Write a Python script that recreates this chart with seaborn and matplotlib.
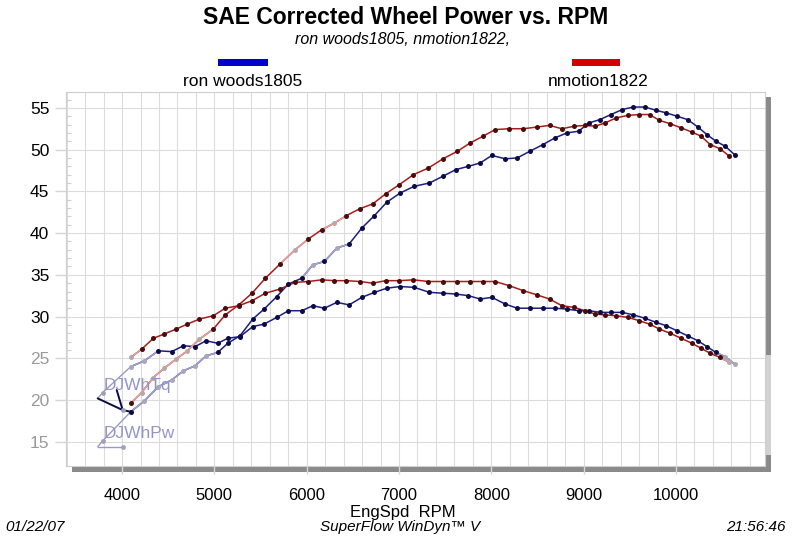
import matplotlib
matplotlib.use("Agg")
import matplotlib.pyplot as plt
import seaborn as sns
from matplotlib.patches import Rectangle
from matplotlib.ticker import MultipleLocator, FixedLocator

# ---------------- data ----------------
title = "SAE Corrected Wheel Power vs. RPM"
subtitle = "ron woods1805, nmotion1822,"
run_names = ["ron woods1805", "nmotion1822"]
x_label = "EngSpd  RPM"
footer_left = "01/22/07"
footer_mid = "SuperFlow WinDyn\u2122 V"
footer_right = "21:56:46"
channel_labels = ["DJWhTq", "DJWhPw"]
x_ticks = [4000, 5000, 6000, 7000, 8000, 9000, 10000]
y_ticks = [15, 20, 25, 30, 35, 40, 45, 50, 55]

ron_rpm = [4094, 4242, 4394, 4538, 4664, 4791, 4910, 5037, 5145, 5278, 5416, 5539,
           5676, 5802, 5947, 6066, 6192, 6326, 6460, 6597, 6734, 6868, 7012, 7164,
           7330, 7474, 7615, 7752, 7879, 8006, 8150, 8280, 8417, 8558, 8688, 8818,
           8944, 9058, 9177, 9296, 9418, 9539, 9662, 9786, 9895, 10010, 10125,
           10238, 10335, 10433, 10533, 10634]
ron_power = [18.6, 19.9, 21.6, 22.4, 23.5, 24.1, 25.3, 25.7, 26.8, 27.7, 29.7, 30.9,
             32.4, 33.9, 34.6, 36.2, 36.6, 38.2, 38.7, 40.6, 42.1, 43.7, 44.8, 45.6,
             46.0, 46.8, 47.6, 48.0, 48.4, 49.3, 48.9, 49.0, 49.8, 50.6, 51.4, 52.0,
             52.2, 53.2, 53.6, 54.2, 54.8, 55.1, 55.1, 54.7, 54.4, 54.0, 53.6,
             52.7, 51.8, 51.0, 50.4, 49.4]
ron_torque = [24.0, 24.7, 25.9, 25.8, 26.5, 26.4, 27.1, 26.8, 27.4, 27.6, 28.8, 29.1,
              29.9, 30.7, 30.7, 31.3, 31.0, 31.7, 31.4, 32.3, 32.9, 33.4, 33.6, 33.5,
              32.9, 32.8, 32.7, 32.5, 32.1, 32.3, 31.5, 31.0, 31.0, 31.0, 31.0, 30.9,
              30.7, 30.7, 30.5, 30.5, 30.5, 30.2, 29.8, 29.3, 28.9, 28.3, 27.7,
              27.1, 26.4, 25.7, 25.2, 24.3]

nmo_rpm = [4094, 4213, 4339, 4455, 4585, 4708, 4838, 4989, 5118, 5265, 5408, 5553,
           5712, 5874, 6018, 6163, 6300, 6431, 6572, 6716, 6855, 7003, 7156, 7319,
           7477, 7633, 7771, 7910, 8041, 8193, 8348, 8493, 8630, 8764, 8897, 9016,
           9125, 9233, 9352, 9479, 9604, 9713, 9821, 9937, 10056, 10172, 10273,
           10370, 10478, 10579]
nmo_power = [19.6, 20.9, 22.7, 23.8, 24.9, 25.9, 27.3, 28.5, 30.2, 31.4, 32.8, 34.6,
             36.3, 38.0, 39.3, 40.4, 41.2, 42.1, 42.9, 43.5, 44.7, 45.8, 47.0, 47.8,
             48.9, 49.8, 50.8, 51.6, 52.4, 52.5, 52.5, 52.7, 52.9, 52.5, 52.8, 52.9,
             52.8, 53.2, 53.8, 54.1, 54.2, 54.2, 53.5, 53.1, 52.6, 52.1, 51.6,
             50.6, 50.1, 49.2]
nmo_torque = [25.1, 26.1, 27.4, 27.9, 28.5, 29.1, 29.7, 30.1, 31.0, 31.3, 31.9, 32.8,
              33.3, 34.1, 34.2, 34.4, 34.3, 34.3, 34.2, 34.0, 34.3, 34.3, 34.4, 34.2,
              34.2, 34.2, 34.2, 34.2, 34.2, 33.7, 33.1, 32.6, 32.1, 31.3, 31.1, 30.7,
              30.3, 30.2, 30.1, 29.9, 29.5, 29.1, 28.5, 28.0, 27.4, 26.8, 26.2,
              25.6, 25.1, 24.5]

# samples drawn faded (unselected points), by index
ron_power_faded = [1, 2, 3, 4, 5, 6, 15, 17]
ron_torque_faded = [0, 1, 50, 51]
nmo_power_faded = [1, 2, 3, 4, 5, 6, 13, 16]
nmo_torque_faded = [0, 49]

# little channel-label glyph lines near the y axis
tq_glyph_rpm = [[3736, 3790], [3790, 4094], [3736, 4007], [3942, 4007], [4007, 4094]]
tq_glyph_val = [[20.2, 20.9], [20.9, 24.0], [20.2, 18.8], [21.2, 18.8], [18.8, 18.6]]
tq_glyph_dark = [False, False, True, True, True]
pw_glyph_rpm = [[3736, 3790], [3736, 4007], [3790, 4094]]
pw_glyph_val = [[14.4, 15.1], [14.4, 14.4], [15.1, 18.6]]
glyph_dot_rpm = [3790, 4007, 3790, 4007]
glyph_dot_val = [20.9, 18.8, 15.1, 14.4]
label_rpm = [3805, 3805]
label_val = [21.8, 16.0]

# ---------------- style ----------------
sns.set_style("white")
plt.rcParams['font.family'] = ['Liberation Sans', 'DejaVu Sans']
plt.rcParams['text.color'] = 'black'

W, H = 800, 540
fig = plt.figure(figsize=(8, 5.4), dpi=100)

def fx(px):
    return px / W

def fy(py):
    return 1 - py / H

ax_l, ax_r, ax_t, ax_b = 66, 765, 92, 466
ax = fig.add_axes([fx(ax_l), fy(ax_b), fx(ax_r - ax_l), (ax_b - ax_t) / H])

BLUE_LINE, BLUE_DOT = "#1e1e82", "#0c0c45"
RED_LINE, RED_DOT = "#a81c1c", "#4a0c0c"
BLUE_FADE, BLUE_FADE_DOT = "#a4a4d2", "#a8a8bc"
RED_FADE, RED_FADE_DOT = "#e2a4a4", "#b8a8a8"

series = [
    (ron_rpm, ron_power, ron_power_faded, BLUE_LINE, BLUE_DOT, BLUE_FADE, BLUE_FADE_DOT),
    (ron_rpm, ron_torque, ron_torque_faded, BLUE_LINE, BLUE_DOT, BLUE_FADE, BLUE_FADE_DOT),
    (nmo_rpm, nmo_power, nmo_power_faded, RED_LINE, RED_DOT, RED_FADE, RED_FADE_DOT),
    (nmo_rpm, nmo_torque, nmo_torque_faded, RED_LINE, RED_DOT, RED_FADE, RED_FADE_DOT),
]

for xs, ys, faded, lc, dc, flc, fdc in series:
    sns.lineplot(x=xs, y=ys, ax=ax, color=lc, lw=1.1, sort=False, zorder=3)
    for i in range(len(xs) - 1):
        if i in faded or (i + 1) in faded:
            ax.plot(xs[i:i + 2], ys[i:i + 2], color=flc, lw=1.1, zorder=4)
    dark_x = [x for k, x in enumerate(xs) if k not in faded]
    dark_y = [y for k, y in enumerate(ys) if k not in faded]
    fade_x = [x for k, x in enumerate(xs) if k in faded]
    fade_y = [y for k, y in enumerate(ys) if k in faded]
    sns.scatterplot(x=dark_x, y=dark_y, ax=ax, color=dc, s=13, marker='o',
                    edgecolor=dc, linewidth=0, zorder=5)
    sns.scatterplot(x=fade_x, y=fade_y, ax=ax, color=fdc, s=13, marker='o',
                    edgecolor=fdc, linewidth=0, zorder=5)

# channel glyphs
for xs, ys, dark in zip(tq_glyph_rpm, tq_glyph_val, tq_glyph_dark):
    ax.plot(xs, ys, color=BLUE_DOT if dark else "#9a9ac4", lw=1.4 if dark else 1.0, zorder=3)
for xs, ys in zip(pw_glyph_rpm, pw_glyph_val):
    ax.plot(xs, ys, color="#9a9ac4", lw=1.0, zorder=3)
ax.scatter(glyph_dot_rpm, glyph_dot_val, color="#a0a0b8", s=12, zorder=4, linewidth=0)

for lab, lx, ly in zip(channel_labels, label_rpm, label_val):
    ax.text(lx, ly, lab, color="#9494cc", fontsize=12.5, va='center', ha='left', zorder=6)

ax.set_xlim(3393, 10964)
ax.set_ylim(12.1, 56.9)

ax.xaxis.set_major_locator(FixedLocator(x_ticks))
ax.xaxis.set_minor_locator(MultipleLocator(200))
ax.yaxis.set_major_locator(FixedLocator(y_ticks))
ax.yaxis.set_minor_locator(FixedLocator(list(range(26, 57))))

ax.grid(True, which='both', axis='x', color='#dcdcdc', lw=0.8, zorder=0)
ax.grid(True, which='major', axis='y', color='#dcdcdc', lw=0.8, zorder=0)
ax.set_axisbelow(True)

ax.tick_params(axis='x', which='major', direction='out', length=5.5, width=1.0,
               color='#d6d6d6', labelsize=12, pad=10, bottom=True, labelcolor='black')
ax.tick_params(axis='x', which='minor', length=0)
ax.tick_params(axis='y', which='major', direction='out', length=8, width=1.0,
               color='#d6d6d6', labelsize=12.5, pad=4, left=True)
ax.tick_params(axis='y', which='minor', direction='in', length=3.5, width=0.8,
               color='#d0d0d0', left=True)
ax.set_xticklabels([str(t) for t in x_ticks])
ax.set_yticklabels([str(t) for t in y_ticks])
for t, lab in zip(y_ticks, ax.get_yticklabels()):
    lab.set_color('#9a9a9a' if t <= 25 else 'black')

for sp in ax.spines.values():
    sp.set_color('#cfcfcf')
    sp.set_linewidth(0.8)

# drop shadow of the plot frame
fig.add_artist(Rectangle((fx(765), fy(472)), fx(6), (472 - 97) / H,
                         transform=fig.transFigure, color='#8a8a8a', zorder=-1, lw=0))
fig.add_artist(Rectangle((fx(765), fy(455)), fx(6), 100 / H,
                         transform=fig.transFigure, color='#d2d2d2', zorder=-1, lw=0))
fig.add_artist(Rectangle((fx(765), fy(472)), fx(6), 17 / H,
                         transform=fig.transFigure, color='#8a8a8a', zorder=-1, lw=0))
fig.add_artist(Rectangle((fx(72), fy(472)), fx(771 - 72), 6 / H,
                         transform=fig.transFigure, color='#8a8a8a', zorder=-1, lw=0))

# titles and legend
fig.text(fx(406), fy(17), title, ha='center', va='center', fontsize=16.5, fontweight='bold',
         color='black')
fig.text(fx(403), fy(39), subtitle, ha='center', va='center', fontsize=11.5, style='italic',
         color='black')

fig.add_artist(Rectangle((fx(218), fy(66)), fx(50), 7 / H, transform=fig.transFigure,
                         color='#0000c8', lw=0))
fig.add_artist(Rectangle((fx(572), fy(66)), fx(48), 7 / H, transform=fig.transFigure,
                         color='#d40000', lw=0))
fig.text(fx(243), fy(82), run_names[0], ha='center', va='center', fontsize=12.5, color='black')
fig.text(fx(598), fy(82), run_names[1], ha='center', va='center', fontsize=12.5, color='black')

fig.text(fx(403), fy(512), x_label, ha='center', va='center', fontsize=12, color='black')
fig.text(fx(5), fy(527), footer_left, ha='left', va='center', fontsize=11, style='italic',
         color='black')
fig.text(fx(400), fy(527), footer_mid, ha='center', va='center', fontsize=11, style='italic',
         color='black')
fig.text(fx(786), fy(527), footer_right, ha='right', va='center', fontsize=11, style='italic',
         color='black')

fig.savefig("out.png", dpi=100)
